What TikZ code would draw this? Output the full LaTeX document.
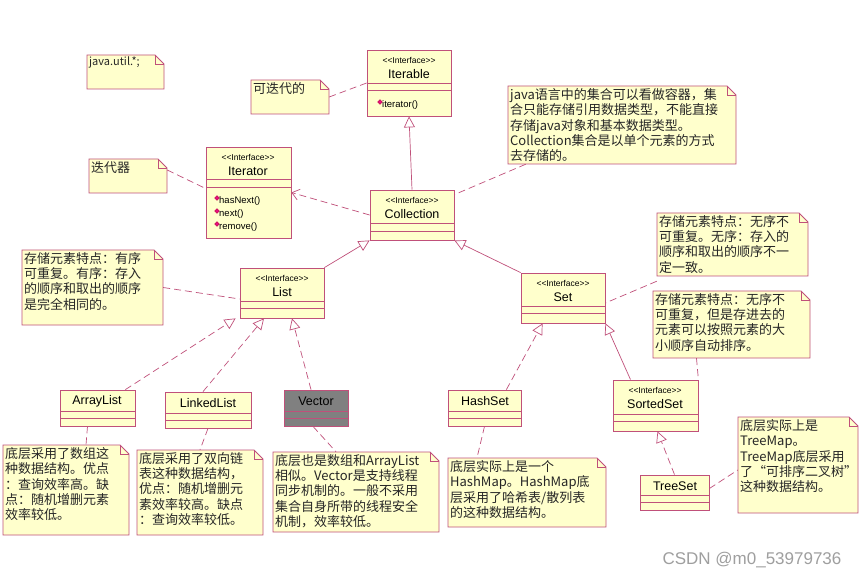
\documentclass[tikz,border=0pt]{standalone}
\usepackage{fontspec}
\setmainfont{Liberation Sans}
\newfontfamily\cjk{Noto Sans CJK SC}
\usetikzlibrary{arrows.meta,shapes.geometric}
\definecolor{bord}{HTML}{C0507A}
\definecolor{paper}{HTML}{FFFFCC}
\tikzset{x=1pt,y=-1pt,
 boxline/.style={draw=bord,line width=0.8pt},
 notetxt/.style={anchor=north west,inner sep=2pt,align=left,font=\cjk\fontsize{13}{15.4}\selectfont,text=black!85},
 gen/.style={draw=bord,line width=0.7pt,-{Triangle[open,length=11pt,width=11pt,fill=white]}},
 impl/.style={gen,dash pattern=on 7pt off 4pt},
 link/.style={draw=bord,line width=0.7pt,dash pattern=on 7pt off 4pt},
 dep/.style={link,-{Straight Barb[length=7pt,width=11pt]}},
 stereo/.style={font=\fontsize{8.5}{9}\selectfont,inner sep=0},
 cname/.style={font=\fontsize{12.5}{13}\selectfont,inner sep=0},
 meth/.style={font=\fontsize{9.5}{10}\selectfont,inner sep=0,anchor=west},
 mdot/.style={diamond,fill=magenta!80!purple,draw=purple,inner sep=0,minimum size=5pt,line width=0.3pt}}
\newcommand\notebox[6]{%
 \path[boxline,fill=paper] (#2,#3) -- ({#4-9},#3) -- (#4,{#3+9}) -- (#4,#5) -- (#2,#5) -- cycle;
 \draw[boxline] ({#4-9},#3) -- ({#4-9},{#3+9}) -- (#4,{#3+9});
 \node[inner sep=0,minimum width={(#4-#2)*1pt},minimum height={(#5-#3)*1pt}] (#1) at ({(#2+#4)/2},{(#3+#5)/2}) {};
 \node[notetxt] at (#2,#3) {#6};}
\newcommand\classbox[8]{%
 \node[boxline,fill=#8,inner sep=0,minimum width={(#4-#2)*1pt},minimum height={(#5-#3)*1pt}] (#1) at ({(#2+#4)/2},{(#3+#5)/2}) {};
 \draw[boxline] (#2,#6) -- (#4,#6) (#2,#7) -- (#4,#7);}
\begin{document}
\begin{tikzpicture}
\useasboundingbox[fill=white] (0,0) rectangle (868,580);
% notes
\notebox{njava}{87}{55}{164}{89}{\fontsize{11}{12}\selectfont java.util.*;}
\notebox{niterable}{251}{80}{329}{114}{可迭代的}
\notebox{niterator}{89}{159}{167}{193}{迭代器}
\notebox{ncoll}{508}{86}{736}{164}{java语言中的集合可以看做容器，集\\合只能存储引用数据类型，不能直接\\存储java对象和基本数据类型。\\Collection集合是以单个元素的方式\\去存储的。}
\notebox{nlist}{22}{250}{163}{325}{存储元素特点：有序\\可重复。有序：存入\\的顺序和取出的顺序\\是完全相同的。}
\notebox{nset}{657}{213}{808}{276}{存储元素特点：无序不\\可重复。无序：存入的\\顺序和取出的顺序不一\\定一致。}
\notebox{nsorted}{653}{291}{810}{358}{存储元素特点：无序不\\可重复，但是存进去的\\元素可以按照元素的大\\小顺序自动排序。}
\notebox{narray}{3}{445}{129}{535}{底层采用了数组这\\种数据结构。优点\\：查询效率高。缺\\点：随机增删元素\\效率较低。}
\notebox{nlinked}{137}{450}{263}{535}{底层采用了双向链\\表这种数据结构，\\优点：随机增删元\\素效率较高。缺点\\：查询效率较低。}
\notebox{nvector}{273}{452}{439}{532}{底层也是数组和ArrayList\\相似。Vector是支持线程\\同步机制的。一般不采用\\集合自身所带的线程安全\\机制，效率较低。}
\notebox{nhash}{448}{458}{606}{527}{底层实际上是一个\\HashMap。HashMap底\\层采用了哈希表/散列表\\的这种数据结构。}
\notebox{ntree}{738}{417}{858}{513}{底层实际上是\\TreeMap。\\TreeMap底层采用\\了“可排序二叉树”\\这种数据结构。}
% classes
\classbox{iterable}{367}{50}{451}{116}{83}{90}{paper}
\node[stereo] at (409,60) {<{}<Interface>{}>};
\node[cname] at (409,74) {Iterable};
\node[mdot] at (380,102) {}; \node[meth] at (382,105) {iterator()};
\classbox{iterator}{206}{147}{291}{238}{179}{187}{paper}
\node[stereo] at (248,157) {<{}<Interface>{}>};
\node[cname] at (248,171) {Iterator};
\node[mdot] at (217,198) {}; \node[meth] at (219,201) {hasNext()};
\node[mdot] at (217,211) {}; \node[meth] at (219,214) {next()};
\node[mdot] at (217,224) {}; \node[meth] at (219,227) {remove()};
\classbox{coll}{370}{190}{454}{240}{223}{231}{paper}
\node[stereo] at (412,200) {<{}<Interface>{}>};
\node[cname] at (412,214) {Collection};
\classbox{list}{240}{268}{324}{318}{301}{308}{paper}
\node[stereo] at (282,278) {<{}<Interface>{}>};
\node[cname] at (282,292) {List};
\classbox{set}{521}{273}{605}{323}{306}{313}{paper}
\node[stereo] at (563,283) {<{}<Interface>{}>};
\node[cname] at (563,297) {Set};
\classbox{arraylist}{60}{390}{135}{426}{411}{418}{paper}
\node[cname] at (97,401) {ArrayList};
\classbox{linkedlist}{165}{392}{251}{428}{413}{420}{paper}
\node[cname] at (208,403) {LinkedList};
\classbox{vector}{284}{390}{348}{426}{411}{418}{gray}
\node[cname] at (316,401) {Vector};
\classbox{hashset}{448}{390}{521}{426}{411}{418}{paper}
\node[cname] at (485,401) {HashSet};
\classbox{sortedset}{613}{380}{698}{431}{414}{421}{paper}
\node[stereo] at (655,390) {<{}<Interface>{}>};
\node[cname] at (655,404) {SortedSet};
\classbox{treeset}{640}{475}{709}{510}{495}{502}{paper}
\node[cname] at (675,486) {TreeSet};
% connectors
\draw[gen] (coll.north) -- (iterable.south);
\draw[gen] (list.north east) -- (coll.south west);
\draw[gen] (set.north west) -- (coll.south east);
\draw[gen] (sortedset.north) ++(-25,0) coordinate (so) (so) -- (set.south east);
\draw[dep] (coll.west) -- (iterator.east);
\draw[impl] ([xshift=-10pt]arraylist.north east) -- ([xshift=-4pt]list.south west);
\draw[impl] ([xshift=-5pt]linkedlist.north) -- ([xshift=-18pt]list.south);
\draw[impl] ([xshift=-5pt]vector.north) -- ([xshift=10pt]list.south);
\draw[impl] ([xshift=-15pt]hashset.north east) -- ([xshift=22pt]set.south west);
\draw[impl] (treeset.north) -- ([xshift=2pt]sortedset.south);
\draw[link] (niterable.east) -- (iterable.west);
\draw[link] ([yshift=6pt]niterator.east) -- ([yshift=4pt]iterator.west);
\draw[link] (ncoll.south west) ++(18,0) coordinate (cc) (cc) -- ([yshift=-5pt]coll.north east);
\draw[link] (nlist.east) -- ([yshift=-6pt]list.west);
\draw[link] ([yshift=-5pt]nset.south west) -- ([yshift=-5pt]set.east);
\draw[link] (nsorted.south) ++(-35,0) coordinate (ss) (ss) -- (sortedset.north east);
\draw[link] ([xshift=-10pt]arraylist.south) -- ([xshift=20pt]narray.north);
\draw[link] ([xshift=0pt]linkedlist.south) -- ([xshift=0pt]nlinked.north);
\draw[link] ([xshift=-3pt]vector.south) -- ([xshift=-20pt]nvector.north);
\draw[link] (hashset.south) -- ([xshift=-50pt]nhash.north);
\draw[link] ([yshift=4pt]treeset.east) -- ([yshift=-5pt]ntree.west);
\node[font=\fontsize{17}{18}\selectfont,text=gray!75] (wm) at (752,560) {CSDN @m0\_53979736};
\end{tikzpicture}
\end{document}
